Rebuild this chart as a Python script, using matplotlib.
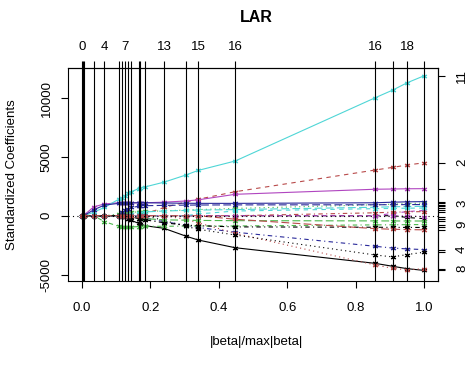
"""LAR coefficient path (lars-style plot) redrawn with matplotlib."""
import numpy as np
import matplotlib
matplotlib.use('Agg')
from matplotlib import pyplot as plt

plt.rcParams['font.family'] = ['Liberation Sans', 'DejaVu Sans']

#
# Data
#

## break points (|beta|/max|beta|) and their top labels
s = [0.000, 0.003, 0.007, 0.035, 0.066, 0.108, 0.118, 0.125, 0.135, 0.145,
     0.166, 0.170, 0.185, 0.240, 0.303, 0.340, 0.448, 0.857, 0.908, 0.950,
     1.000]
step_labels = ['0', '', '', '', '4', '', '', '7', '', '', '', '', '', '13',
               '', '15', '16', '16', '', '18', '']

## standardized coefficients at each break point, one list per variable
coefs = {
    1: [0, 0, 0, 0, 0, 0, 0, -100, -250, -400, -650, -700, -850, -1070,
        -1725, -2065, -2720, -4050, -4300, -4500, -4650],
    2: [0, 0, 0, 0, 0, 0, 0, 0, 0, 0, 0, 0, 150, 700, 1150, 1400, 2040,
        3885, 4110, 4310, 4500],
    3: [0, 0, 0, 0, 0, 150, 200, 230, 260, 290, 330, 340, 360, 420, 480,
        520, 620, 930, 980, 1030, 1080],
    4: [0, 0, 0, 0, 0, 0, 0, 0, 0, 0, 0, -60, -200, -500, -800, -1000,
        -1400, -2600, -2750, -2820, -2880],
    5: [0, 0, 0, 0, 0, 0, 0, 0, 80, 150, 250, 270, 320, 400, 450, 480, 520,
        720, 760, 780, 800],
    6: [0, 30, 60, 750, 1000, 1100, 1100, 1100, 1100, 1100, 1100, 1100,
        1100, 1150, 1250, 1350, 1820, 2250, 2270, 2290, 2300],
    7: [0, 0, 0, 0, 0, 0, 0, 0, 0, 0, 0, 0, 0, 0, 0, 0, 0, 0, 0, -150,
        -250],
    8: [0, 0, 0, 0, 0, 0, 0, 0, 0, 0, 0, 0, 0, 0, -300, -600, -1500, -4190,
        -4470, -4600, -4500],
    9: [0, 0, 0, 0, -500, -900, -920, -930, -940, -950, -930, -920, -900,
        -900, -880, -870, -870, -780, -770, -760, -750],
    10: [0, 0, 0, 0, 0, 0, 300, 450, 600, 700, 800, 820, 850, 880, 900, 910,
         920, 930, 940, 945, 950],
    11: [0, 0, 0, 300, 700, 1400, 1500, 1650, 1900, 2050, 2300, 2350, 2450,
         2850, 3450, 3850, 4650, 10030, 10680, 11300, 11900],
    12: [0, 0, 0, 0, 0, 0, 0, 0, 0, 0, 0, 0, 0, 0, 0, 0, 0, 0, 200, 350,
         450],
    13: [0, 0, 0, 0, 0, 0, 0, 0, 0, 0, 0, 0, 0, -400, -900, -1150, -1640,
         -3340, -3500, -3300, -3100],
    14: [0, 0, 0, 0, 0, 0, 0, 0, 0, 0, 0, 0, 0, 0, 0, 0, 0, 250, 300, 330,
         350],
    15: [0, 0, 0, 0, 0, 0, 0, 0, 0, 0, -150, -180, -250, -350, -380, -400,
         -420, -440, -445, -448, -450],
    16: [0, 0, 20, 500, 900, 1050, 1060, 1070, 1080, 1090, 1100, 1100, 1100,
         1080, 1060, 1050, 1050, 1100, 1150, 1180, 1200],
    17: [0, 0, 0, 0, 0, 0, 0, 0, 0, 0, 0, 0, 0, 0, 0, 150, 400, 600, 620,
         640, 650],
    18: [0, 0, 0, 0, 0, 0, 0, 0, 0, 0, 0, 0, 0, 0, 0, 0, 0, 0, 0, 0, -80],
    19: [0, 0, 0, 0, 0, 0, 0, 0, 0, -100, -250, -280, -350, -600, -800,
         -850, -950, -980, -990, -995, -1000],
    20: [0, 0, 0, 0, 0, 0, 0, 0, 0, 0, 0, 0, 0, 0, 0, 0, -300, -1100, -1150,
         -1180, -1200],
}

## variables whose label survives on the right axis
right_shown = [11, 2, 3, 9, 4, 8]

# matplot-like cycling of colours and line types
colours = ['#000000', '#B84A4A', '#4CB84C', '#2A2A9A', '#4FD6D6', '#B045C0']
ltys = ['-', (0, (4, 4)), (0, (1, 3)), (0, (1, 3, 4, 3)), (0, (7, 3))]


#
# Plot
#
fig = plt.figure(figsize=(4.74, 3.67), dpi=100)
ax = fig.add_axes([0.1435, 0.2343, 0.7805, 0.5804])

for v, c in coefs.items():
    ax.plot(s, c, color=colours[(v - 1) % 6], linestyle=ltys[(v - 1) % 5],
            lw=0.8, marker=(6, 2, 0), ms=4, mew=0.8, zorder=2)

ax.axhline(0, color='k', lw=0.8, ls=(0, (1, 3)), zorder=3)
for x in s:
    ax.axvline(x, color='k', lw=0.8, zorder=4)

ax.set_xlim(-0.04, 1.04)
ax.set_ylim(-5550, 12555)
ax.set_xticks([0, 0.2, 0.4, 0.6, 0.8, 1.0])
ax.set_xticklabels(['0.0', '0.2', '0.4', '0.6', '0.8', '1.0'])
ax.set_yticks([-5000, 0, 5000, 10000])
ax.set_yticklabels(['-5000', '0', '5000', '10000'], rotation=90,
                   va='center')
ax.tick_params(direction='out', length=5, width=0.8, labelsize=9.5)
ax.tick_params(axis='x', pad=10)
ax.tick_params(axis='y', pad=6)
for sp in ax.spines.values():
    sp.set_linewidth(0.8)

## top axis: steps
top = ax.secondary_xaxis('top')
top.set_xticks(s)
top.set_xticklabels(step_labels)
top.tick_params(direction='out', length=5, width=0.8, labelsize=9.5, pad=6)

## right axis: final coefficients
finals = [coefs[v][-1] for v in coefs]
rlabels = [str(v) if v in right_shown else '' for v in coefs]
right = ax.secondary_yaxis('right')
right.set_yticks(finals)
right.set_yticklabels(rlabels, rotation=90, va='center')
right.tick_params(direction='out', length=5, width=0.8, labelsize=9.5,
                  pad=8)

fig.text(0.541, 0.951, 'LAR', ha='center', va='center', fontsize=11.5,
         fontweight='bold')
fig.text(0.541, 0.068, '|beta|/max|beta|', ha='center', va='center',
         fontsize=9.5)
fig.text(0.026, 0.525, 'Standardized Coefficients', ha='center',
         va='center', rotation=90, fontsize=9.5)

plt.savefig('out.png', dpi=100)
